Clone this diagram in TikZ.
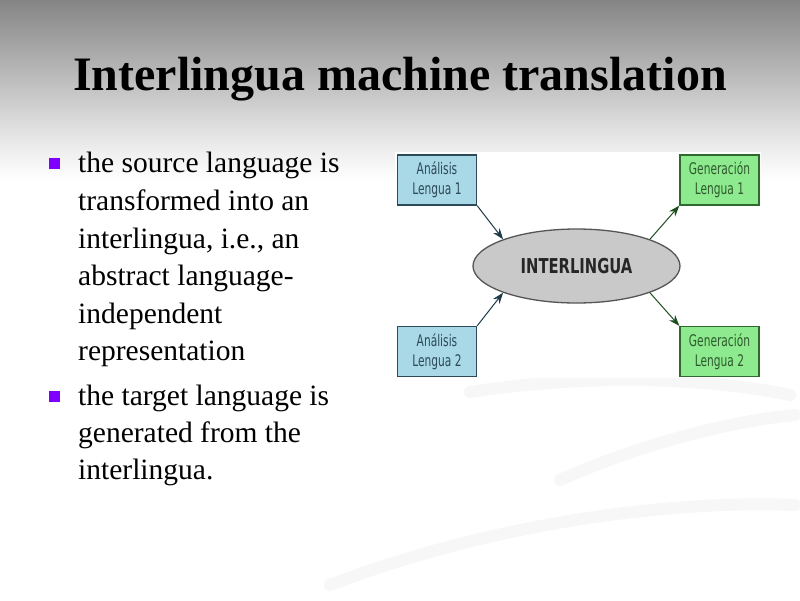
\documentclass[tikz,border=0pt]{standalone}
\usepackage{fontspec}
\setmainfont{Liberation Serif}
\newfontfamily\dejanarrow{DejaVu Sans Condensed}[FakeStretch=0.74]
\newfontfamily\dejabold{DejaVu Sans Condensed Bold}[FakeStretch=0.8]
\usetikzlibrary{shapes.geometric,arrows.meta}
\definecolor{anafill}{HTML}{A9D8E6}
\definecolor{anadraw}{HTML}{2E4A58}
\definecolor{genfill}{HTML}{8EEA8E}
\definecolor{gendraw}{HTML}{2E6A2E}
\definecolor{ellfill}{HTML}{C9C9C9}
\definecolor{elldraw}{HTML}{555555}
\definecolor{bulletc}{HTML}{7F00FF}
\definecolor{txtblue}{HTML}{2E4A58}
\definecolor{txtgreen}{HTML}{2E5A2E}
\definecolor{arrblue}{HTML}{1E3A48}
\definecolor{arrgreen}{HTML}{1E4E1E}
\tikzset{
  anabox/.style={draw=anadraw, fill=anafill, line width=1.3pt, minimum width=79pt, minimum height=50pt, inner sep=0pt, align=center, font=\dejanarrow\fontsize{16}{20}\selectfont, text=txtblue},
  genbox/.style={draw=gendraw, fill=genfill, line width=1.3pt, minimum width=79pt, minimum height=50pt, inner sep=0pt, align=center, font=\dejanarrow\fontsize{16}{20}\selectfont, text=txtgreen},
  ell/.style={ellipse, draw=elldraw, fill=ellfill, line width=1.3pt, minimum width=207pt, minimum height=74pt, inner sep=0pt, font=\dejabold\fontsize{20.5}{22}\selectfont, text=black!85},
  anaarrow/.style={draw=arrblue, line width=1pt, -{Stealth[length=11pt,width=8pt]}},
  genarrow/.style={draw=arrgreen, line width=1pt, -{Stealth[length=11pt,width=8pt]}},
  bl/.style={anchor=base west, inner sep=0pt, font=\fontsize{29.5}{32}\selectfont},
  bsq/.style={fill=bulletc, minimum size=11pt, inner sep=0pt}
}
\begin{document}
\begin{tikzpicture}[x=1pt,y=-1pt]
\useasboundingbox (0,0) rectangle (800,600);
\fill[white] (0,0) rectangle (800,600);
\shade[top color=black!48, bottom color=black!9] (0,0) rectangle (800,140);
\shade[top color=black!9, bottom color=white] (0,140) rectangle (800,180);
% faint swooshes
\begin{scope}[black!3, line width=12pt, line cap=round]
\draw (470,392) .. controls (600,372) and (720,380) .. (790,395);
\draw (560,480) .. controls (650,440) and (740,420) .. (795,415);
\draw (330,585) .. controls (500,520) and (680,500) .. (795,505);
\end{scope}
\node[font=\bfseries\fontsize{48}{50}\selectfont, anchor=base] (title) at (400,90) {Interlingua machine translation};
% diagram image
\fill[white] (395,152) rectangle (761,378);
\node[anabox] (a1) at (437,180) {Análisis\\Lengua 1};
\node[anabox] (a2) at (437,351.5) {Análisis\\Lengua 2};
\node[genbox] (g1) at (719.5,180) {Generación\\Lengua 1};
\node[genbox] (g2) at (719.5,351.5) {Generación\\Lengua 2};
\node[ell] (il) at (576.5,266) {INTERLINGUA};
\draw[anaarrow] (a1.south east) -- (il.160);
\draw[anaarrow] (a2.north east) -- (il.200);
\draw[genarrow] (il.20) -- (g1.south west);
\draw[genarrow] (il.-20) -- (g2.north west);
% bullets
\node[bsq] (b1) at (54,163) {};
\node[bsq] (b2) at (54,396) {};
\node[bl] (l1) at (78,172) {the source language is};
\node[bl] (l2) at (78,210) {transformed into an};
\node[bl] (l3) at (78,248) {interlingua, i.e., an};
\node[bl] (l4) at (78,285) {abstract language-};
\node[bl] (l5) at (78,323) {independent};
\node[bl] (l6) at (78,360) {representation};
\node[bl] (l7) at (78,405) {the target language is};
\node[bl] (l8) at (78,442) {generated from the};
\node[bl] (l9) at (78,479) {interlingua.};
\end{tikzpicture}
\end{document}
